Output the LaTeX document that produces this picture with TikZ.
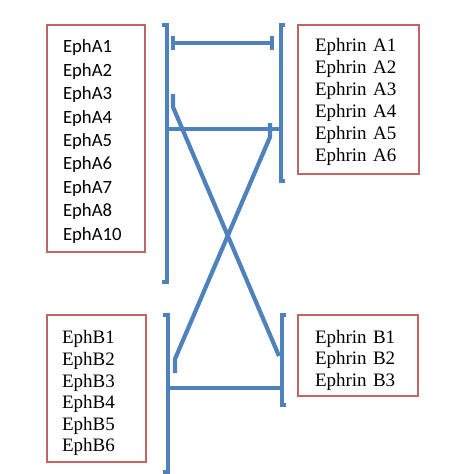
\documentclass[tikz,border=0pt]{standalone}
\usepackage{fontspec}
\setmainfont{Liberation Serif}
\newfontfamily\calfont{Carlito}
\definecolor{linkblue}{RGB}{79,129,189}
\definecolor{boxred}{RGB}{192,100,100}
\tikzset{
  listbox/.style={draw=boxred, line width=1.6pt, align=left, inner ysep=0pt},
  drop/.style={execute at begin node={\rule{0pt}{#1}}},
  bracket/.style={draw=linkblue, line width=4.2pt},
}
\begin{document}
\begin{tikzpicture}[x=1pt, y=-1pt]
\useasboundingbox (0,0) rectangle (474,474);
{
% Receptor and ligand boxes
\node (ephA) [listbox, drop=19pt, minimum width=98, minimum height=227, inner xsep=16, text width=66,
  font={\calfont\fontsize{18.7}{23.4}\selectfont}] at (96,138.5)
  {EphA1\\EphA2\\EphA3\\EphA4\\EphA5\\EphA6\\EphA7\\EphA8\\EphA10};
\node (ephrinA) [listbox, drop=19pt, minimum width=121, minimum height=149, inner xsep=17, text width=87,
  font={\fontsize{19}{22}\selectfont}] at (358.5,99.5)
  {Ephrin A1\\Ephrin A2\\Ephrin A3\\Ephrin A4\\Ephrin A5\\Ephrin A6};
\node (ephB) [listbox, drop=23pt, minimum width=99, minimum height=147, inner xsep=15, text width=69,
  font={\fontsize{19}{21.6}\selectfont}] at (96.5,388.5)
  {EphB1\\EphB2\\EphB3\\EphB4\\EphB5\\EphB6};
\node (ephrinB) [listbox, drop=23pt, minimum width=120, minimum height=81, inner xsep=17, text width=86,
  font={\fontsize{19}{21.7}\selectfont}] at (358,355.5)
  {Ephrin B1\\Ephrin B2\\Ephrin B3};

% Bracket points
\coordinate (aL top) at (167,25);   \coordinate (aL bot) at (167,282);
\coordinate (aR top) at (281,25);   \coordinate (aR bot) at (281,181);
\coordinate (bL top) at (168,315);  \coordinate (bL bot) at (168,472);
\coordinate (bR top) at (282,315);  \coordinate (bR bot) at (282,405);

% Drawing brackets
\draw [bracket] ([xshift=-5]aL top) -- (aL top) -- (aL bot) -- ([xshift=-5]aL bot);
\draw [bracket] ([xshift=4]aR top) -- (aR top) -- (aR bot) -- ([xshift=4]aR bot);
\draw [bracket] ([xshift=-5]bL top) -- (bL top) -- (bL bot) -- ([xshift=-5]bL bot);
\draw [bracket] ([xshift=4]bR top) -- (bR top) -- (bR bot) -- ([xshift=4]bR bot);

% Drawing blocking bar A
\coordinate (blockL) at (173,43);
\coordinate (blockR) at (272,43);
\draw [bracket] (blockL) -- (blockR);
\draw [bracket] ([yshift=-7]blockL) -- ([yshift=7]blockL);
\draw [bracket] ([yshift=-7]blockR) -- ([yshift=7]blockR);

% Drawing links A-A and B-B
\draw [bracket] (167,129) -- (281,129);
\draw [bracket] (168,388) -- (282,388);

% Drawing cross link ephrin B -> EphA
\coordinate (tipA) at (173,107);
\draw [bracket] (279,356) -- (tipA) -- ([yshift=13]tipA);

% Drawing cross link EphB <-> ephrin A
\coordinate (tipEA) at (270,137);
\coordinate (tipB) at (175,359);
\draw [bracket] ([yshift=14]tipEA) -- (tipEA) -- (tipB) -- ([yshift=-14]tipB);
}
\end{tikzpicture}
\end{document}
